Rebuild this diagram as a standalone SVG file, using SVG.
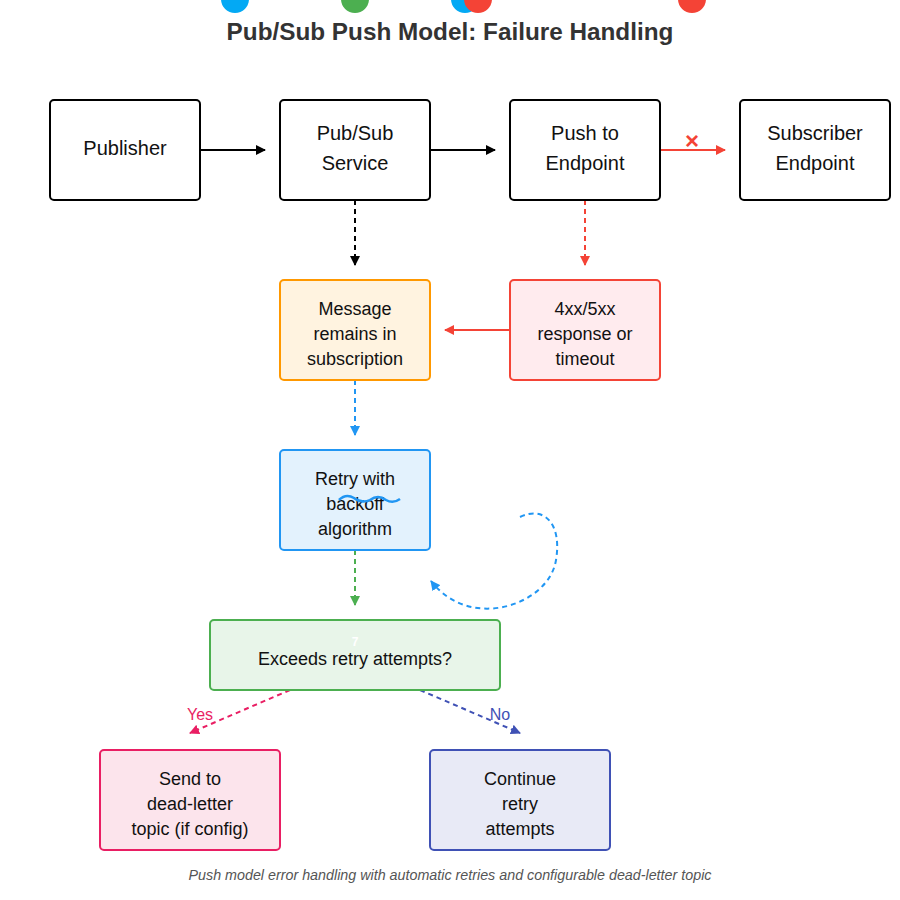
<svg xmlns="http://www.w3.org/2000/svg" width="900" height="900" viewBox="0 0 900 900">
<defs>
<style>
.box{stroke-width:2}
.t{font-family:"Liberation Sans",Arial,sans-serif;font-size:18px;fill:#111;text-anchor:middle}
.tl{font-family:"Liberation Sans",Arial,sans-serif;font-size:20px;fill:#111;text-anchor:middle}
.ln{fill:none;stroke-width:2}
</style>
<marker id="ak" markerWidth="10" markerHeight="10" refX="9" refY="5" orient="auto" markerUnits="userSpaceOnUse"><path d="M0,0 L10,5 L0,10 Z" fill="#000"/></marker>
<marker id="ar" markerWidth="10" markerHeight="10" refX="9" refY="5" orient="auto" markerUnits="userSpaceOnUse"><path d="M0,0 L10,5 L0,10 Z" fill="#F44336"/></marker>
<marker id="ab" markerWidth="10" markerHeight="10" refX="9" refY="5" orient="auto" markerUnits="userSpaceOnUse"><path d="M0,0 L10,5 L0,10 Z" fill="#2196F3"/></marker>
<marker id="ag" markerWidth="10" markerHeight="10" refX="9" refY="5" orient="auto" markerUnits="userSpaceOnUse"><path d="M0,0 L10,5 L0,10 Z" fill="#4CAF50"/></marker>
<marker id="ap" markerWidth="10" markerHeight="10" refX="9" refY="5" orient="auto" markerUnits="userSpaceOnUse"><path d="M0,0 L10,5 L0,10 Z" fill="#E91E63"/></marker>
<marker id="ai" markerWidth="10" markerHeight="10" refX="9" refY="5" orient="auto" markerUnits="userSpaceOnUse"><path d="M0,0 L10,5 L0,10 Z" fill="#3F51B5"/></marker>
</defs>
<rect width="900" height="900" fill="#fff"/>
<g id="decor">
<circle cx="235" cy="-1" r="14" fill="#03A9F4"/>
<circle cx="355" cy="-1" r="14" fill="#4CAF50"/>
<circle cx="465" cy="-1" r="14" fill="#03A9F4"/>
<circle cx="478" cy="-1" r="14" fill="#F44336"/>
<circle cx="692" cy="-1" r="14" fill="#F44336"/>
</g>
<text x="450" y="40" font-family="Liberation Sans,Arial,sans-serif" font-size="24.3" font-weight="bold" fill="#333" text-anchor="middle">Pub/Sub Push Model: Failure Handling</text>
<g id="connectors">
<line class="ln" x1="200" y1="150" x2="265" y2="150" stroke="#000" marker-end="url(#ak)"/>
<line class="ln" x1="430" y1="150" x2="495" y2="150" stroke="#000" marker-end="url(#ak)"/>
<line class="ln" x1="660" y1="150" x2="725" y2="150" stroke="#F44336" marker-end="url(#ar)"/>
<text x="692" y="149" font-family="Liberation Sans,Arial,sans-serif" font-size="24" font-weight="bold" fill="#F44336" text-anchor="middle">×</text>
<line class="ln" x1="355" y1="200" x2="355" y2="265" stroke="#000" stroke-dasharray="5,4" marker-end="url(#ak)"/>
<line class="ln" x1="585" y1="200" x2="585" y2="265" stroke="#F44336" stroke-dasharray="5,4" marker-end="url(#ar)"/>
<line class="ln" x1="510" y1="330" x2="445" y2="330" stroke="#F44336" marker-end="url(#ar)"/>
<line class="ln" x1="355" y1="380" x2="355" y2="435" stroke="#2196F3" stroke-dasharray="5,4" marker-end="url(#ab)"/>
<line class="ln" x1="355" y1="550" x2="355" y2="605" stroke="#4CAF50" stroke-dasharray="5,4" marker-end="url(#ag)"/>
<line class="ln" x1="290" y1="690" x2="190" y2="733" stroke="#E91E63" stroke-dasharray="5,4" marker-end="url(#ap)"/>
<text x="200" y="720" font-family="Liberation Sans,Arial,sans-serif" font-size="16" fill="#E91E63" text-anchor="middle">Yes</text>
<line class="ln" x1="420" y1="690" x2="520" y2="733" stroke="#3F51B5" stroke-dasharray="5,4" marker-end="url(#ai)"/>
<text x="500" y="720" font-family="Liberation Sans,Arial,sans-serif" font-size="16" fill="#3F51B5" text-anchor="middle">No</text>
<path class="ln" d="M520,517 C545,505 562,525 556,560 C549,605 470,632 431,581" stroke="#2196F3" stroke-dasharray="5,4" marker-end="url(#ab)"/>
</g>
<g id="publisher"><rect class="box" x="50" y="100" width="150" height="100" rx="4" fill="#fff" stroke="#000"/><text class="tl" x="125" y="155">Publisher</text></g>
<g id="pubsub"><rect class="box" x="280" y="100" width="150" height="100" rx="4" fill="#fff" stroke="#000"/><text class="tl" x="355" y="140">Pub/Sub</text><text class="tl" x="355" y="170">Service</text></g>
<g id="push"><rect class="box" x="510" y="100" width="150" height="100" rx="4" fill="#fff" stroke="#000"/><text class="tl" x="585" y="140">Push to</text><text class="tl" x="585" y="170">Endpoint</text></g>
<g id="subscriber"><rect class="box" x="740" y="100" width="150" height="100" rx="4" fill="#fff" stroke="#000"/><text class="tl" x="815" y="140">Subscriber</text><text class="tl" x="815" y="170">Endpoint</text></g>
<g id="message"><rect class="box" x="280" y="280" width="150" height="100" rx="4" fill="#FFF3E0" stroke="#FF9800"/><text class="t" x="355" y="315">Message</text><text class="t" x="355" y="340">remains in</text><text class="t" x="355" y="365">subscription</text></g>
<g id="error"><rect class="box" x="510" y="280" width="150" height="100" rx="4" fill="#FFEBEE" stroke="#F44336"/><text class="t" x="585" y="315">4xx/5xx</text><text class="t" x="585" y="340">response or</text><text class="t" x="585" y="365">timeout</text></g>
<g id="retry"><rect class="box" x="280" y="450" width="150" height="100" rx="4" fill="#E3F2FD" stroke="#2196F3"/><text class="t" x="355" y="485">Retry with</text><text class="t" x="355" y="510">backoff</text><text class="t" x="355" y="535">algorithm</text>
<path d="M339,500 Q346,493 354,498 Q362,504 370,500 Q378,494 386,500 Q393,504 400,499" fill="none" stroke="#2196F3" stroke-width="2.5"/></g>
<g id="exceeds"><rect class="box" x="210" y="620" width="290" height="70" rx="4" fill="#E8F5E9" stroke="#4CAF50"/><text x="355" y="646" font-family="Liberation Sans,Arial,sans-serif" font-size="12" font-weight="bold" fill="#fff" text-anchor="middle">7</text><text class="t" x="355" y="665">Exceeds retry attempts?</text></g>
<g id="deadletter"><rect class="box" x="100" y="750" width="180" height="100" rx="4" fill="#FCE4EC" stroke="#E91E63"/><text class="t" x="190" y="785">Send to</text><text class="t" x="190" y="810">dead-letter</text><text class="t" x="190" y="835">topic (if config)</text></g>
<g id="continue"><rect class="box" x="430" y="750" width="180" height="100" rx="4" fill="#E8EAF6" stroke="#3F51B5"/><text class="t" x="520" y="785">Continue</text><text class="t" x="520" y="810">retry</text><text class="t" x="520" y="835">attempts</text></g>
<text x="450" y="880" font-family="Liberation Sans,Arial,sans-serif" font-size="14.3" font-style="italic" fill="#555" text-anchor="middle">Push model error handling with automatic retries and configurable dead-letter topic</text>
</svg>
